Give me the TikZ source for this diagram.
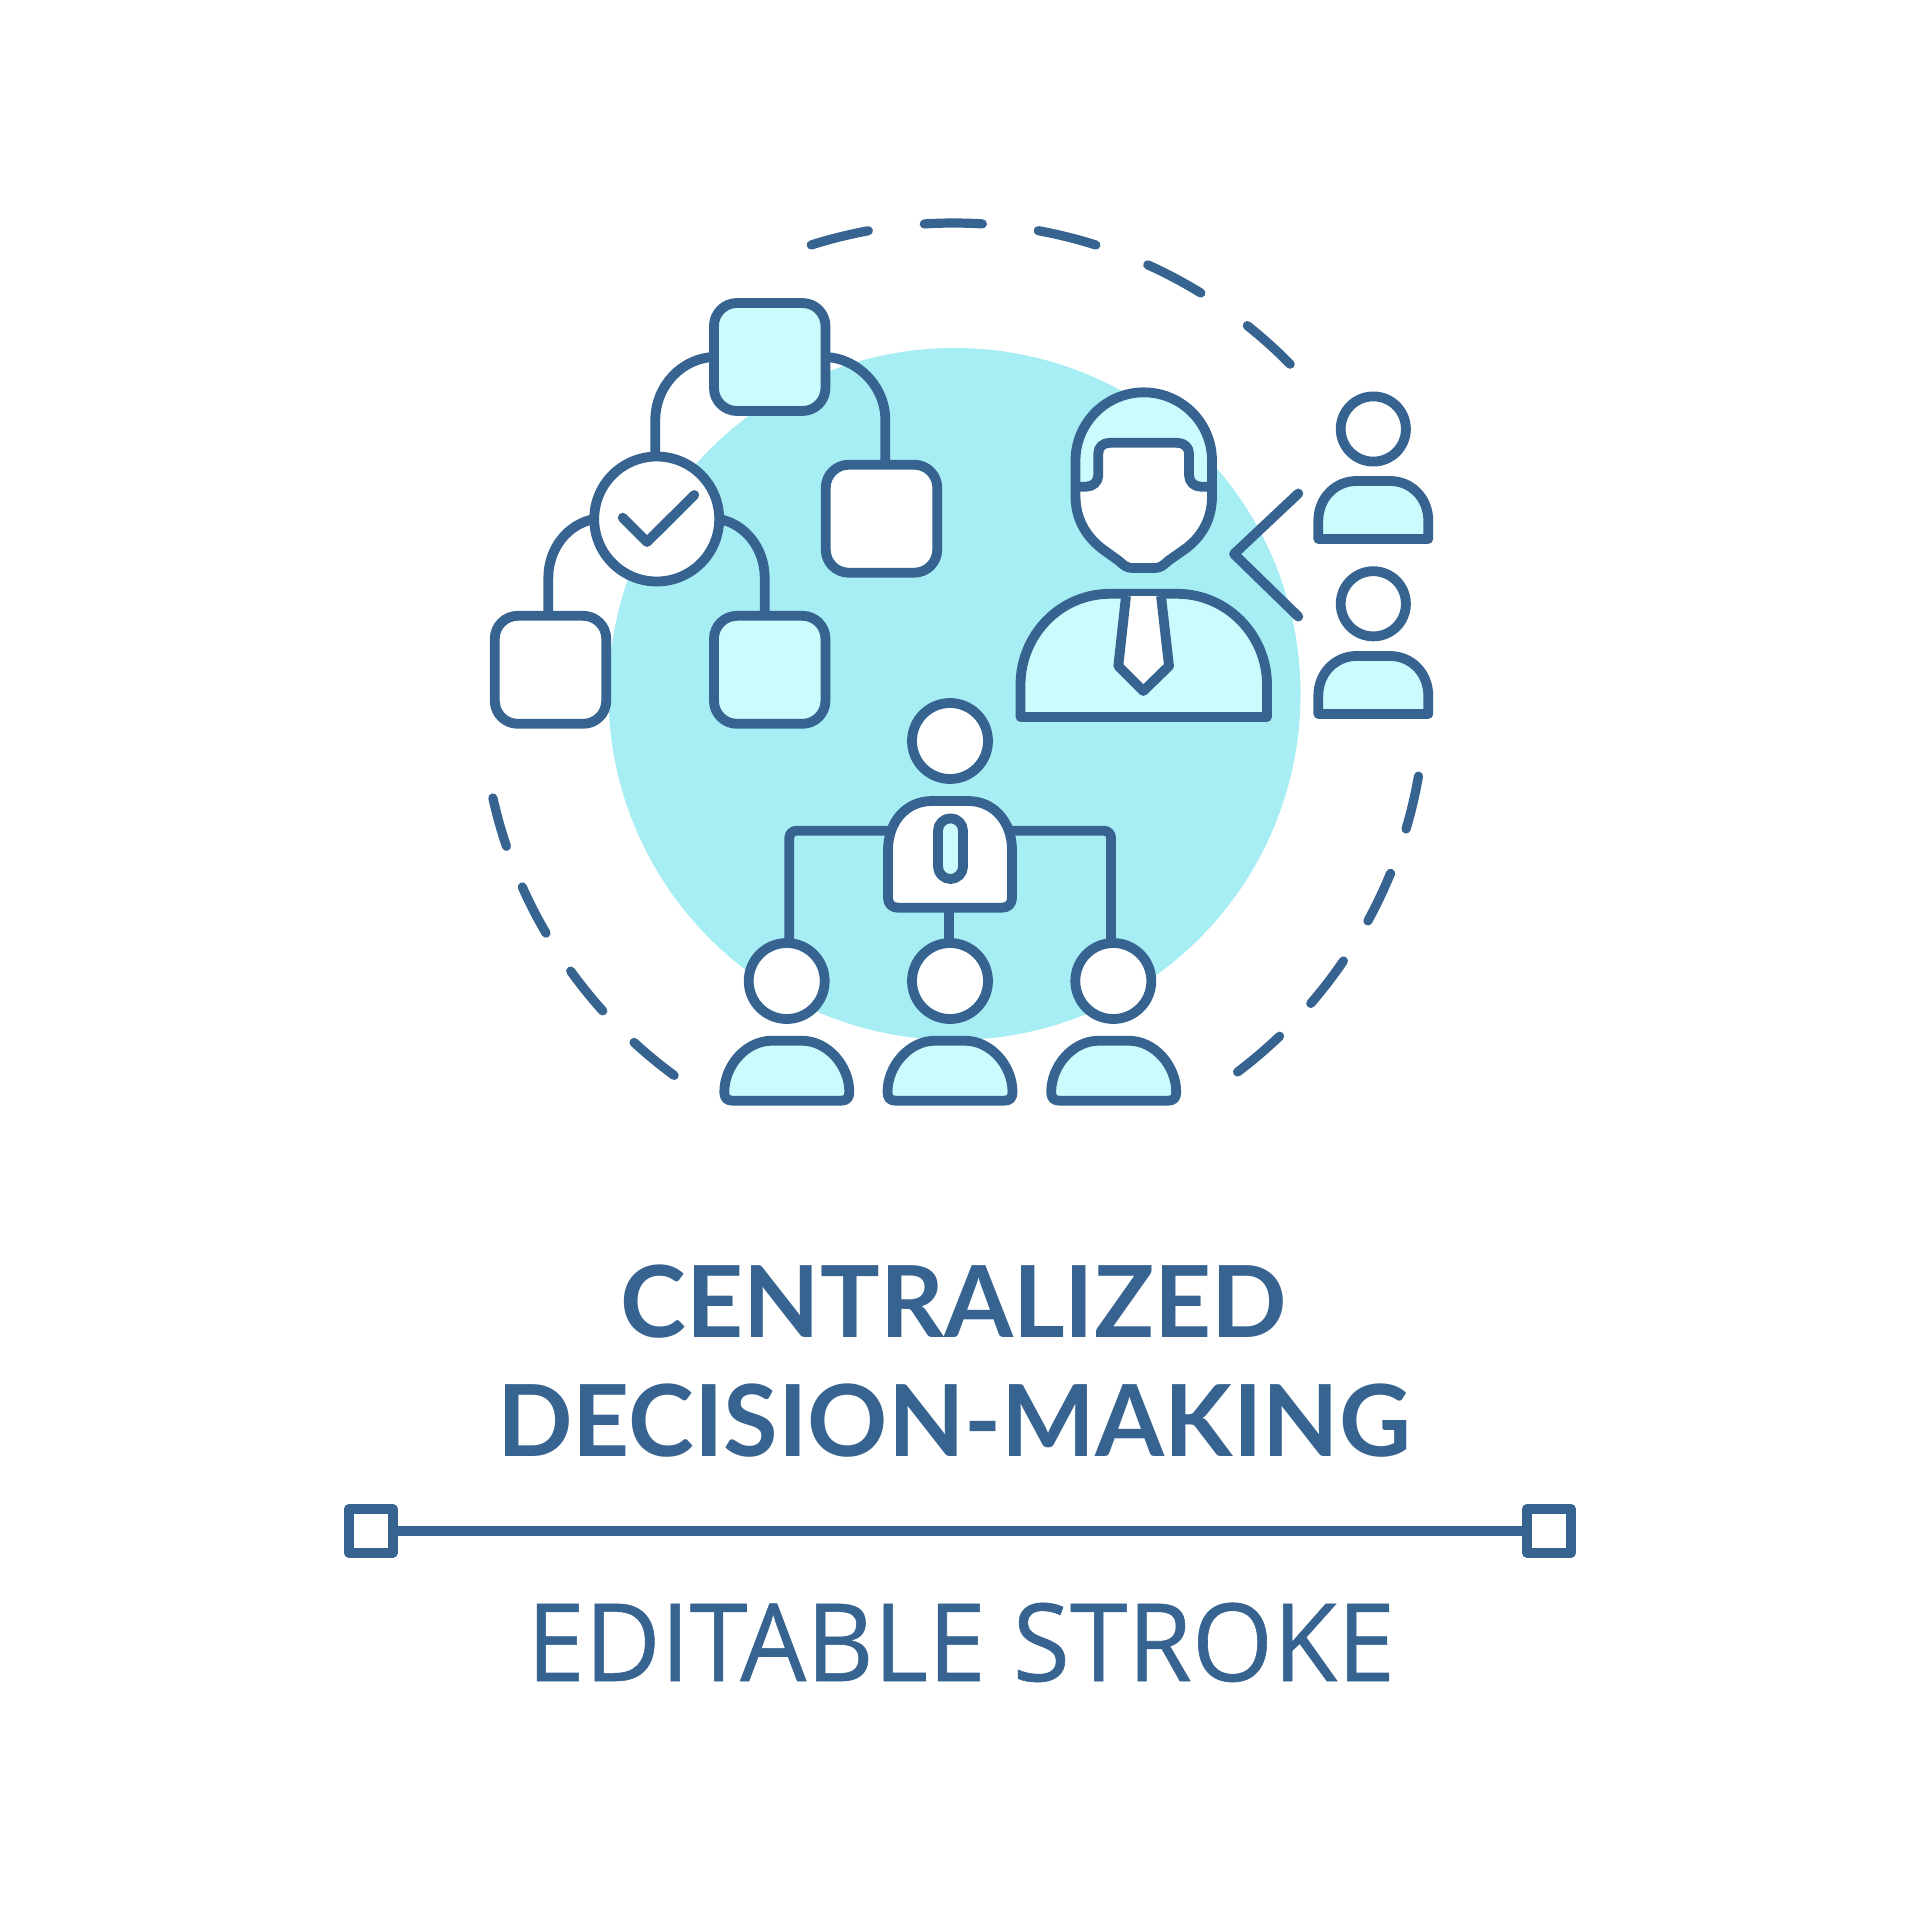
\documentclass[tikz,border=0pt]{standalone}
\usepackage{fontspec}
\usetikzlibrary{calc}
\newfontfamily\titlefont{Lato}
\newfontfamily\subfont{Open Sans}[FakeStretch=0.965,FakeBold=0.5]
\definecolor{ink}{HTML}{376390}
\definecolor{disc}{HTML}{A6EDF4}
\definecolor{pale}{HTML}{CBFBFD}
\tikzset{
  x=0.5pt,y=-0.5pt,
  ink line/.style={draw=ink,line width=4.9pt,line join=round},
  box/.style={ink line,rectangle,rounded corners=11.5pt,minimum width=55.75pt,minimum height=54pt,inner sep=0pt,outer sep=0pt},
  headc/.style={ink line,circle,fill=white,minimum size=38pt,inner sep=0pt,outer sep=0pt},
  dashring/.style={draw=ink,line width=4.6pt,line cap=round},
  ruleend/.style={ink line,rectangle,fill=white,minimum size=22pt,inner sep=0pt,outer sep=0pt},
}
\newcommand{\ringdash}[2]{\draw[dashring] (953.5,695) ++(#1:472) arc[start angle=#1,end angle=#2,radius=472];}
\begin{document}
\begin{tikzpicture}
\useasboundingbox (0,0) rectangle (1920,1920);
\fill[white] (0,0) rectangle (1920,1920);
\fill[disc] (954.5,694) circle[radius=346];
% dashed ring
\foreach \a/\b in {-107.55/-100.4,-93.55/-86.5,-79.65/-72.45,-65.7/-58.4,-51.5/-44.5,
  9.9/16.5,22.2/28.6,34.3/40.8,46.3/53,
  167.4/161.3,156/149.7,144.2/138,132.6/126.3}{\ringdash{\a}{\b}}
% decision tree
\node[box,fill=pale]  (tree1) at (769.7,357) {};
\node[box,fill=white] (tree2) at (881.5,518.7) {};
\node[box,fill=white] (tree3) at (550.5,669.8) {};
\node[box,fill=pale]  (tree4) at (769.7,669.8) {};
\node[ink line,circle,fill=white,minimum size=62.5pt,inner sep=0pt,outer sep=0pt] (check) at (656.7,519) {};
\draw[ink line] (tree1.west) .. controls (682,358) and (655.3,386) .. (655.3,420) -- (check.north -| 655.3,0);
\draw[ink line] (tree1.east) .. controls (857,358) and (885.3,386) .. (885.3,420) -- ($(tree2.north)+(3.8,0)$);
\draw[ink line] (check.west) .. controls (568,524) and (548.3,548) .. (548.3,578) -- ($(tree3.north)+(-2.2,0)$);
\draw[ink line] (check.east) .. controls (745,524) and (764.7,548) .. (764.7,578) -- ($(tree4.north)+(-5,0)$);
\draw[ink line,line cap=round] (622.7,517.7) -- (647,542) -- (694.3,495);
% manager
\fill[pale] (1075.5,486.7) -- (1075.5,460.6) arc[start angle=180,end angle=360,radius=68.25] -- (1212,486.7) -- cycle;
\fill[white] (1075.5,486.7) -- (1080,486.7) -- (1086,486.7) .. controls (1093,486.7) and (1098.3,482) .. (1098.3,475) -- (1098.3,453.5) .. controls (1098.3,447) and (1103,442.8) .. (1110,442.8) -- (1177,442.8) .. controls (1184,442.8) and (1189,447) .. (1189,453.5) -- (1189,475) .. controls (1189,482) and (1194,486.7) .. (1201,486.7) -- (1212,486.7) .. controls (1212,515) and (1203,535) .. (1186.5,548) -- (1165,563) -- (1122,563) -- (1101,548) .. controls (1085,535) and (1075.5,515) .. cycle;
\draw[ink line] (1075.5,496) -- (1075.5,460.6) arc[start angle=180,end angle=360,radius=68.25] -- (1212,496) .. controls (1212,518) and (1203,535) .. (1186.5,548) -- (1168,561) .. controls (1164,565) and (1160,568) .. (1155,568) -- (1132,568) .. controls (1127,568) and (1123,565) .. (1119,561) -- (1101,548) .. controls (1085,535) and (1075.5,518) .. cycle;
\draw[ink line] (1078,486.7) -- (1086,486.7) .. controls (1093,486.7) and (1098.3,482) .. (1098.3,475) -- (1098.3,453.5) .. controls (1098.3,447) and (1103,442.8) .. (1110,442.8) -- (1177,442.8) .. controls (1184,442.8) and (1189,447) .. (1189,453.5) -- (1189,475) .. controls (1189,482) and (1194,486.7) .. (1201,486.7) -- (1209,486.7);
\draw[ink line,fill=pale] (1020.5,717) -- (1020.5,685) .. controls (1020.5,635) and (1060,593.8) .. (1110,593.8) -- (1177,593.8) .. controls (1227,593.8) and (1267,635) .. (1267,685) -- (1267,717) -- cycle;
\draw[ink line,fill=white] (1126,596) -- (1118.3,666) -- (1143.3,691) -- (1169,666) -- (1161,596);
\draw[ink line,line cap=round] (1298.3,493.5) -- (1234,554) -- (1298.3,616.6);
% two persons on the right
\node[headc,minimum size=32.6pt] (rhead1) at (1373.3,429) {};
\node[headc,minimum size=32.6pt] (rhead2) at (1373.3,603.8) {};
\foreach \t in {0,175}{
\begin{scope}[shift={(1373.3,\t)}]
\draw[ink line,fill=pale] (-55,539) -- (-55,521) .. controls (-55,497) and (-37,481) .. (-17,481) -- (17,481) .. controls (37,481) and (55,497) .. (55,521) -- (55,539) -- cycle;
\end{scope}}
% lower org chart
\node[headc] (ctop) at (950,741) {};
\node[headc] (low1) at (786.7,981) {};
\node[headc] (low2) at (950,981) {};
\node[headc] (low3) at (1113.3,981) {};
\coordinate (midL) at (895,830.7);
\coordinate (midR) at (1005,830.7);
\coordinate (midB) at (949,907);
\draw[ink line,rounded corners=3.5pt] (midL) -- (789.3,830.7) -- ($(low1.north)+(2.6,0)$);
\draw[ink line,rounded corners=3.5pt] (midR) -- (1111,830.7) -- ($(low3.north)+(-2.3,0)$);
\draw[ink line] (midB) -- ($(low2.north)+(-1,0)$);
\draw[ink line,fill=white] (898,907.7) .. controls (892,907.7) and (888,904) .. (888,898) -- (888,850) .. controls (888,822) and (906,801) .. (932,801) -- (968,801) .. controls (994,801) and (1012,822) .. (1012,850) -- (1012,898) .. controls (1012,904) and (1008,907.7) .. (1002,907.7) -- cycle;
\draw[ink line,fill=pale,rounded corners=6.25pt] (938,818.3) rectangle (963,879);
\foreach \cx in {786.8,950,1113.7}{
\begin{scope}[shift={(\cx,0)}]
\draw[ink line,fill=pale] (-54,1100.7) -- (54,1100.7) .. controls (60,1100.7) and (62.5,1098) .. (62.5,1092) .. controls (62.5,1066) and (41,1040.7) .. (15,1040.7) -- (-15,1040.7) .. controls (-41,1040.7) and (-62.5,1066) .. (-62.5,1092) .. controls (-62.5,1098) and (-60,1100.7) .. cycle;
\end{scope}}
% title
\node[anchor=base,inner sep=0pt,text=ink,font=\titlefont\bfseries\fontsize{49.7}{49.7}\selectfont] (title1) at (954,1337) {CENTRALIZED};
\node[anchor=base,inner sep=0pt,text=ink,font=\titlefont\bfseries\fontsize{49.7}{49.7}\selectfont] (title2) at (954,1456.5) {DECISION-MAKING};
% rule
\node[ruleend] (endL) at (370.7,1530.7) {};
\node[ruleend] (endR) at (1549,1530.7) {};
\draw[ink line] (endL) -- (endR);
\node[anchor=base,inner sep=0pt,text=ink,font=\subfont\fontsize{54}{54}\selectfont] (sub) at (961,1681) {EDITABLE STROKE};
\end{tikzpicture}
\end{document}
